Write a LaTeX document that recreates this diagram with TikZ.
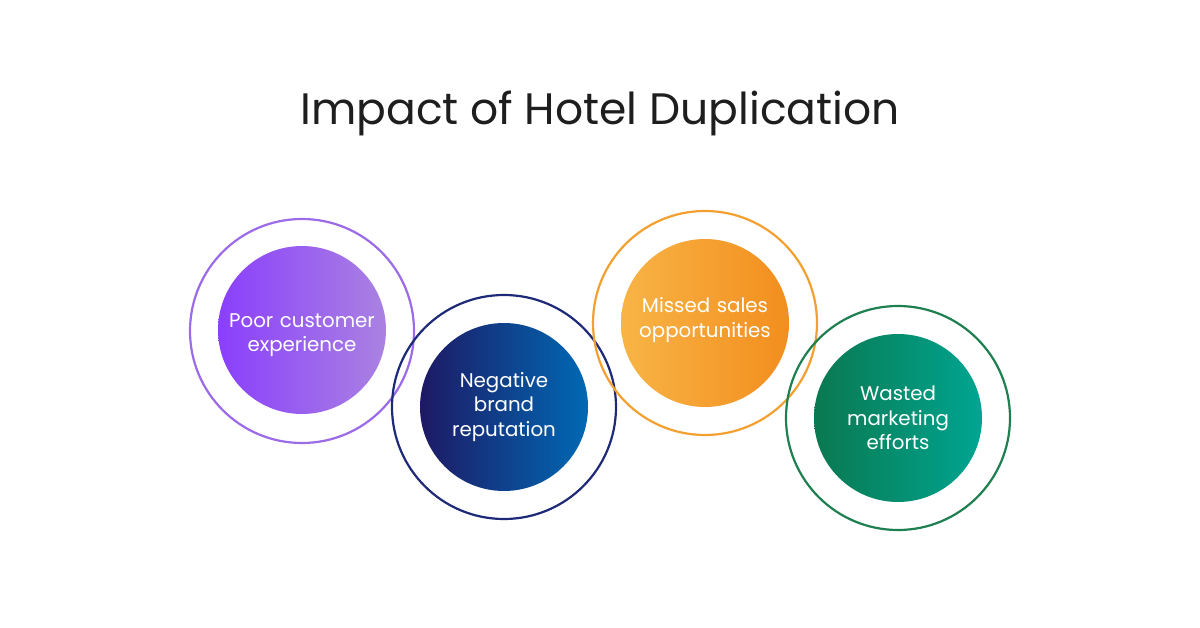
\documentclass[tikz,border=0pt]{standalone}
\usepackage{fontspec}
\setmainfont{Poppins}
\begin{document}
\begin{tikzpicture}[x=1pt,y=-1pt,
 ring/.style={draw=#1,line width=2.2pt,circle,minimum size=224pt,inner sep=0pt},
 disc/.style={circle,minimum size=168pt,inner sep=0pt},
 lbl/.style={text=white,font=\fontsize{19.8}{24.5}\selectfont,align=center,text width=160pt}]
\fill[white] (0,0) rectangle (1200,628);
\node[text={rgb,255:red,30;green,30;blue,30}] (t) at (600,113) {\fontsize{44}{52}\selectfont Impact of Hotel Duplication};
\definecolor{r1}{HTML}{9B6BE8}\definecolor{r2}{HTML}{1E2A78}\definecolor{r3}{HTML}{F3A030}\definecolor{r4}{HTML}{1E8050}
\node[ring=r1] (o1) at (302,331) {};
\node[disc,left color={rgb,255:red,138;green,63;blue,252},right color={rgb,255:red,170;green,130;blue,225}] (c1) at (302,330) {};
\node[lbl] (l1) at (302,335) {Poor customer\\experience};
\node[ring=r2] (o2) at (504,407) {};
\node[disc,left color={rgb,255:red,30;green,25;blue,100},right color={rgb,255:red,0;green,105;blue,180}] (c2) at (504,407) {};
\node[lbl] (l2) at (504,407) {Negative\\brand\\reputation};
\node[ring=r3] (o3) at (705,323) {};
\node[disc,left color={rgb,255:red,248;green,180;blue,70},right color={rgb,255:red,242;green,142;blue,30}] (c3) at (705,323) {};
\node[lbl] (l3) at (705,320) {Missed sales\\opportunities};
\node[ring=r4] (o4) at (898,418) {};
\node[disc,left color={rgb,255:red,10;green,120;blue,80},right color={rgb,255:red,0;green,165;blue,145}] (c4) at (898,418) {};
\node[lbl] (l4) at (898,418) {Wasted\\marketing\\efforts};
\useasboundingbox (0,0) rectangle (1200,628);
\end{tikzpicture}
\end{document}
